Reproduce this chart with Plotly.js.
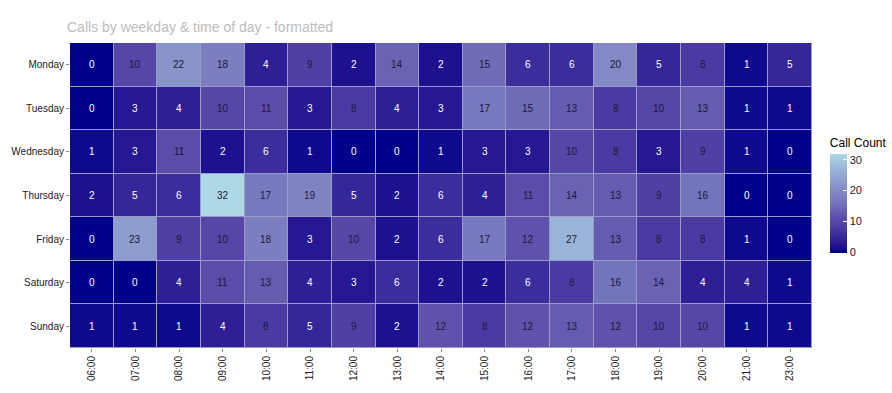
<!DOCTYPE html>
<html>
<head>
<meta charset="utf-8">
<script src="https://cdn.plot.ly/plotly-3.0.1.min.js"></script>
<style>html,body{margin:0;padding:0;background:#fff;}#chart{width:892px;height:393px;}</style>
</head>
<body>
<div id="chart"></div>
<script>
const hours = ["06:00","07:00","08:00","09:00","10:00","11:00","12:00","13:00","14:00","15:00","16:00","17:00","18:00","19:00","20:00","21:00","23:00"];
const days = ["Monday","Tuesday","Wednesday","Thursday","Friday","Saturday","Sunday"];
const monday    = [0,10,22,18,4,9,2,14,2,15,6,6,20,5,8,1,5];
const tuesday   = [0,3,4,10,11,3,8,4,3,17,15,13,8,10,13,1,1];
const wednesday = [1,3,11,2,6,1,0,0,1,3,3,10,8,3,9,1,0];
const thursday  = [2,5,6,32,17,19,5,2,6,4,11,14,13,9,16,0,0];
const friday    = [0,23,9,10,18,3,10,2,6,17,12,27,13,8,8,1,0];
const saturday  = [0,0,4,11,13,4,3,6,2,2,6,8,16,14,4,4,1];
const sunday    = [1,1,1,4,8,5,9,2,12,8,12,13,12,10,10,1,1];
const counts = [monday,tuesday,wednesday,thursday,friday,saturday,sunday];

const colorscale = [
  [0, "#00008B"],
  [0.0625, "#1e1190"],
  [0.125, "#2e1f96"],
  [0.25, "#4a3aa2"],
  [0.375, "#6052ac"],
  [0.5, "#7474bc"],
  [0.625, "#8488c4"],
  [0.75, "#8ea2cf"],
  [0.875, "#9cbadb"],
  [1, "#ADD8E6"]
];

const FONT = "Liberation Sans, Arial, sans-serif";
const annotations = [];
days.forEach((d, i) => {
  hours.forEach((h, j) => {
    const v = counts[i][j];
    annotations.push({
      x: h, y: d, xref: "x", yref: "y", text: String(v), showarrow: false,
      font: {family: FONT, size: 10, color: v >= 8 ? "#1a1a3a" : "#ffffff"}
    });
  });
});

const trace = {
  type: "heatmap",
  x: hours, y: days, z: counts,
  zmin: 0, zmax: 32,
  colorscale: colorscale,
  xgap: 1, ygap: 1,
  hoverinfo: "x+y+z",
  colorbar: {
    title: {text: "Call Count", side: "top", font: {family: FONT, size: 12, color: "#000"}},
    x: 1.024, xanchor: "left", y: 0.70, yanchor: "top",
    len: 118, lenmode: "pixels", thickness: 17, ypad: 0, xpad: 0,
    outlinewidth: 0,
    tickvals: [0,10,20,30], ticks: "inside", ticklen: 4, tickcolor: "#ffffff",
    tickfont: {family: FONT, size: 11, color: "#222"}
  }
};

const layout = {
  width: 892, height: 393,
  margin: {l: 70, r: 80, t: 43, b: 45, autoexpand: false},
  paper_bgcolor: "#ffffff",
  plot_bgcolor: "#9a9acb",
  title: {text: "Calls by weekday & time of day - formatted", x: 67/892, xanchor: "left", y: 0.93, yanchor: "middle",
          font: {family: FONT, size: 14, color: "#bdbdbd"}},
  xaxis: {type: "category", tickangle: -90, ticks: "outside", ticklen: 3, tickcolor: "#888",
          tickfont: {family: FONT, size: 10, color: "#222"},
          showgrid: false, zeroline: false, showline: false},
  yaxis: {type: "category", autorange: "reversed", ticks: "outside", ticklen: 3, tickcolor: "#888",
          tickfont: {family: FONT, size: 10, color: "#222"},
          showgrid: false, zeroline: false, showline: false},
  annotations: annotations
};

Plotly.newPlot("chart", [trace], layout, {displayModeBar: false, staticPlot: true});
</script>
</body>
</html>
